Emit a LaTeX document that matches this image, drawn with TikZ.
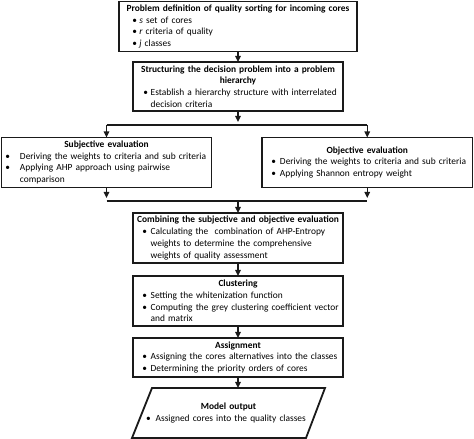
\documentclass[tikz,border=0pt]{standalone}
\usepackage{fontspec}
\setmainfont{Carlito}
\usetikzlibrary{arrows.meta}
\setlength{\parindent}{0pt}
\definecolor{c1a1a1a}{RGB}{26,26,26}
\def \globalscale {1.000000}
\newcommand{\boxhead}[1]{{\centering\bfseries #1\par}}
\newcommand{\bitem}[3]{\hspace*{#1}\makebox[#2][l]{\textbullet}#3\par}
\newcommand{\bcont}[2]{\hspace*{#1}#2\par}

\begin{document}
\begin{tikzpicture}[y=1pt, x=1pt, yscale=\globalscale,xscale=\globalscale, every node/.append style={scale=\globalscale}, inner sep=0pt, outer sep=0pt,
  box/.style={draw=c1a1a1a, line width=1.8pt, align=left, font=\fontsize{9.4}{11.7}\selectfont},
  arr/.style={draw=c1a1a1a, line width=1.3pt, -{Triangle[length=6pt,width=5.5pt]}},
  link/.style={draw=c1a1a1a, line width=1.3pt}]
  \useasboundingbox (0.0, 0.0) rectangle (474.0, 439.0);



  \node[box, text width=238, minimum height=50] (probdef) at (238.0, 412.5){\boxhead{Problem definition of quality sorting for incoming cores}
  \bitem{13.3pt}{7pt}{\textit{s} set of cores}
  \bitem{13.3pt}{7pt}{\textit{r} criteria of quality}
  \bitem{13.3pt}{7pt}{\textit{j} classes}};



  \node[box, text width=210, minimum height=49] (struct) at (238.0, 352.5){\boxhead{Structuring the decision problem into a problem\par hierarchy}
  \bitem{10.3pt}{7.4pt}{Establish a hierarchy structure with interrelated}
  \bcont{17.7pt}{decision criteria}};



  \node[box, text width=210, minimum height=50] (subj) at (106.5, 276.5){\boxhead{Subjective evaluation}
  \bitem{3.8pt}{14.7pt}{Deriving the weights to criteria and sub criteria}
  \bitem{3.8pt}{14.7pt}{Applying AHP approach using pairwise}
  \bcont{18.5pt}{comparison}};



  \node[box, text width=210.5, minimum height=50] (obj) at (367.25, 276.5){\boxhead{Objective evaluation}
  \bitem{9.3pt}{8.7pt}{Deriving the weights to criteria and sub criteria}
  \bitem{9.3pt}{8.7pt}{Applying Shannon entropy weight}};



  \node[box, text width=210, minimum height=50] (comb) at (238.0, 201.0){\boxhead{Combining the subjective and objective evaluation}
  \bitem{9.3pt}{8.4pt}{Calculating the\ \ combination of AHP-Entropy}
  \bcont{17.7pt}{weights to determine the comprehensive}
  \bcont{17.7pt}{weights of quality assessment}};



  \node[box, text width=210, minimum height=50] (clust) at (238.0, 138.0){\boxhead{Clustering}
  \bitem{9.3pt}{8.4pt}{Setting the whitenization function}
  \bitem{9.3pt}{8.4pt}{Computing the grey clustering coefficient vector}
  \bcont{17.7pt}{and matrix}};



  \node[box, text width=210, minimum height=39] (assign) at (238.0, 81.5){\boxhead{Assignment}
  \bitem{9.3pt}{8.4pt}{Assigning the cores alternatives into the classes}
  \bitem{9.3pt}{8.4pt}{Determining the priority orders of cores}};



  \node[box, draw=none, text width=193, minimum height=50] (output) at (228.5, 26.0){\boxhead{Model output}
  \bitem{14pt}{9.7pt}{Assigned cores into the quality classes}};



  \path[draw=c1a1a1a, line width=1.8pt, line join=miter] ([xshift=20pt]output.north west) -- (output.north east) -- ([xshift=-19pt]output.south east) -- (output.south west) -- cycle;



  \coordinate (split) at (238.0, 314.0);
  \coordinate (splitl) at (106.5, 314.0);
  \coordinate (splitr) at (367.25, 314.0);
  \coordinate (merge) at (238.0, 238.0);
  \coordinate (mergel) at (106.5, 238.0);
  \coordinate (merger) at (367.25, 238.0);



  \path[arr] (probdef) -- (struct);



  \path[arr, shorten >=3pt] (struct) -- (split);



  \path[link] (splitl) -- (splitr);



  \path[arr] (splitl) -- (subj);



  \path[arr] (splitr) -- (obj);



  \path[arr, shorten >=3pt] (subj) -- (mergel);



  \path[arr, shorten >=3pt] (obj) -- (merger);



  \path[link] (mergel) -- (merger);



  \path[arr] (merge) -- (comb);



  \path[arr] (comb) -- (clust);



  \path[arr] (clust) -- (assign);



  \path[arr] (assign.south) -- (assign.south |- output.north);




\end{tikzpicture}
\end{document}
